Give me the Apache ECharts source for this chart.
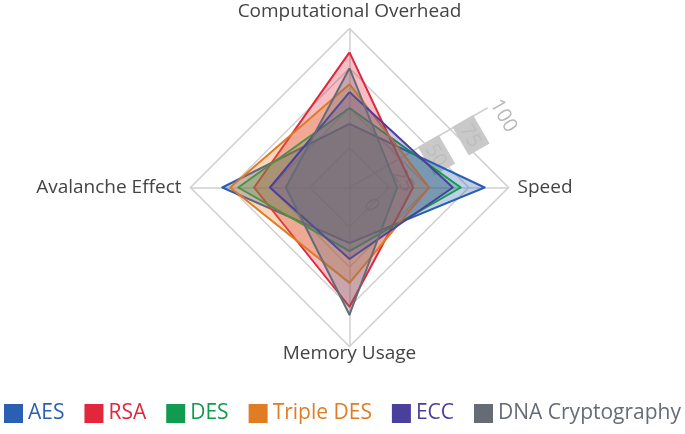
<!DOCTYPE html>
<html>
<head>
<meta charset="utf-8">
<script src="https://cdn.jsdelivr.net/npm/echarts@6/dist/echarts.min.js"></script>
<style>
html,body{margin:0;padding:0;background:#fff;}
#c{width:685px;height:434px;}
</style>
</head>
<body>
<div id="c"></div>
<script>
// Indicators in ECharts order (counter-clockwise from top)
const indicators = ['Computational Overhead', 'Avalanche Effect', 'Memory Usage', 'Speed'];
const seriesNames = ['AES', 'RSA', 'DES', 'Triple DES', 'ECC', 'DNA Cryptography'];
const colors = ['#2b5fb2', '#e2263b', '#119b50', '#e07c23', '#4b3f9d', '#656c76'];
const aes = [40, 80, 35, 85];
const rsa = [85, 60, 75, 40];
const des = [50, 70, 40, 70];
const tripleDes = [65, 75, 60, 50];
const ecc = [60, 50, 45, 65];
const dna = [75, 40, 80, 30];
const values = [aes, rsa, des, tripleDes, ecc, dna];
const radialTicks = [0, 25, 50, 75, 100];

const chart = echarts.init(document.getElementById('c'), null, {renderer: 'canvas'});
const FONT = '"Open Sans", "Noto Sans", sans-serif';
const center = [349.5, 187.5];
const radius = 159;

chart.setOption({
  animation: false,
  textStyle: {fontFamily: FONT},
  legend: {
    bottom: 5,
    left: 'center',
    width: 685,
    padding: [5, 0],
    icon: 'rect',
    itemWidth: 19,
    itemHeight: 19,
    itemGap: 20,
    textStyle: {fontSize: 21, fontFamily: FONT},
    data: seriesNames.map((n, i) => ({name: n, textStyle: {color: colors[i]}}))
  },
  polar: {center: center, radius: radius},
  angleAxis: {type: 'value', min: 0, max: 360, startAngle: 30, show: false},
  radiusAxis: {
    type: 'value', min: 0, max: 100, interval: 25, z: 1,
    axisLine: {show: true, lineStyle: {color: '#cfcfcf', width: 1.5}},
    axisTick: {show: false},
    splitLine: {show: false},
    axisLabel: {
      margin: -32,
      rotate: -60,
      verticalAlign: 'bottom',
      color: '#b8b8b8',
      fontSize: 20,
      fontFamily: FONT,
      formatter: v => (v === 50 || v === 75) ? '{b|' + v + '}' : String(v),
      rich: {b: {backgroundColor: '#c9c9c9', color: '#bdbdbd', fontSize: 20, padding: [3, 5, 1, 5]}}
    }
  },
  radar: {
    center: center,
    radius: radius,
    shape: 'polygon',
    splitNumber: 4,
    startAngle: 90,
    nameGap: -2,
    indicator: indicators.map(n => ({name: n, min: 0, max: 100})),
    axisName: {
      color: '#444', fontSize: 19, fontFamily: FONT,
      formatter: function (name) {
        if (name === 'Computational Overhead') return '{t|' + name + '}';
        if (name === 'Avalanche Effect') return '{l|' + name + '}';
        if (name === 'Speed') return '{r|' + name + '}';
        return '{b|' + name + '}';
      },
      rich: {
        t: {color: '#444', fontSize: 19, padding: [0, 0, 9, 0]},
        l: {color: '#444', fontSize: 19, padding: [0, 11, 0, 0]},
        r: {color: '#444', fontSize: 19, padding: [0, 0, 0, 11]},
        b: {color: '#444', fontSize: 19}
      }
    },
    axisLine: {lineStyle: {color: '#cfcfcf', width: 1.5}},
    splitLine: {lineStyle: {color: '#cfcfcf', width: 1.5}},
    splitArea: {show: false},
    axisLabel: {show: false},
    axisTick: {show: false}
  },
  series: seriesNames.map((n, i) => ({
    type: 'radar',
    name: n,
    z: 3,
    symbol: 'none',
    color: colors[i],
    lineStyle: {width: 2, color: colors[i]},
    areaStyle: {color: colors[i], opacity: 0.3},
    data: [{name: n, value: values[i]}]
  }))
});
</script>
</body>
</html>
